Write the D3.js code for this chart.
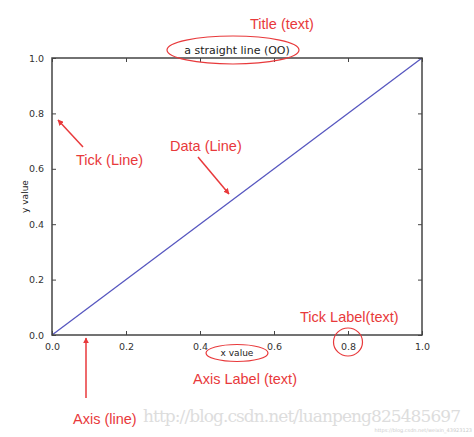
<!DOCTYPE html>
<html><head><meta charset="utf-8">
<script src="https://cdn.jsdelivr.net/npm/d3@7"></script>
<style>body{margin:0;background:#fff}svg{display:block}</style>
</head><body>
<svg id="c" width="474" height="437"></svg>
<script>
const lineX = [0, 1];
const lineY = [0, 1];
const xTicks = [0.0, 0.2, 0.4, 0.6, 0.8, 1.0];
const yTicks = [0.0, 0.2, 0.4, 0.6, 0.8, 1.0];
const title = "a straight line (OO)";
const xLabel = "x value";
const yLabel = "y value";

const svg = d3.select("#c");
const L = 52, R = 422, T = 58, B = 335;
const x = d3.scaleLinear().domain([0, 1]).range([L, R]);
const y = d3.scaleLinear().domain([0, 1]).range([B, T]);
const axisColor = "#444";
const font = "DejaVu Sans, sans-serif";

// data line
const pts = lineX.map((v, i) => [v, lineY[i]]);
svg.append("path").datum(pts)
  .attr("d", d3.line().x(d => x(d[0])).y(d => y(d[1])))
  .attr("fill", "none").attr("stroke", "#5757c0").attr("stroke-width", 1.3);

// axes (inward ticks)
function styleAxis(g, hideLabels) {
  g.select(".domain").remove();
  g.selectAll("line").attr("stroke", axisColor).attr("stroke-width", 1);
  g.selectAll("text").attr("fill", "#333").attr("font-family", font).attr("font-size", 9.5);
  if (hideLabels) g.selectAll("text").remove();
}
const fmt = d3.format(".1f");
svg.append("g").attr("transform", `translate(0,${B})`)
  .call(d3.axisBottom(x).tickValues(xTicks).tickFormat(fmt).tickSizeInner(-4).tickPadding(8))
  .call(g => styleAxis(g, false));
svg.append("g").attr("transform", `translate(0,${T})`)
  .call(d3.axisTop(x).tickValues(xTicks).tickSizeInner(-4))
  .call(g => styleAxis(g, true));
svg.append("g").attr("transform", `translate(${L},0)`)
  .call(d3.axisLeft(y).tickValues(yTicks).tickFormat(fmt).tickSizeInner(-4).tickPadding(8))
  .call(g => styleAxis(g, false));
svg.append("g").attr("transform", `translate(${R},0)`)
  .call(d3.axisRight(y).tickValues(yTicks).tickSizeInner(-4))
  .call(g => styleAxis(g, true));

// frame
svg.append("rect").attr("x", L).attr("y", T).attr("width", R - L).attr("height", B - T)
  .attr("fill", "none").attr("stroke", axisColor).attr("stroke-width", 1.5);

// title and labels
svg.append("text").attr("x", (L + R) / 2).attr("y", 54).attr("text-anchor", "middle")
  .attr("font-family", font).attr("font-size", 11).attr("fill", "#222").text(title);
svg.append("text").attr("x", (L + R) / 2).attr("y", 356).attr("text-anchor", "middle")
  .attr("font-family", font).attr("font-size", 9).attr("fill", "#222").text(xLabel);
svg.append("text").attr("transform", `translate(28,${(T + B) / 2}) rotate(-90)`).attr("text-anchor", "middle")
  .attr("font-family", font).attr("font-size", 9).attr("fill", "#222").text(yLabel);

// annotations
const red = "#e8393b";
const af = "Liberation Sans, Arial, sans-serif";
const ann = [
  ["Title (text)", 250, 29],
  ["Tick (Line)", 76, 165],
  ["Data (Line)", 170, 151],
  ["Tick Label(text)", 300, 322],
  ["Axis Label (text)", 193, 384],
  ["Axis (line)", 73, 424]
];
ann.forEach(a => svg.append("text").attr("x", a[1]).attr("y", a[2])
  .attr("font-family", af).attr("font-size", 14.5).attr("fill", red).text(a[0]));

svg.append("ellipse").attr("cx", 233).attr("cy", 50).attr("rx", 66).attr("ry", 14)
  .attr("fill", "none").attr("stroke", red).attr("stroke-width", 1.2);
svg.append("ellipse").attr("cx", 237).attr("cy", 353).attr("rx", 31).attr("ry", 8.5)
  .attr("fill", "none").attr("stroke", red).attr("stroke-width", 1.2);
svg.append("ellipse").attr("cx", 348).attr("cy", 342).attr("rx", 14.5).attr("ry", 14)
  .attr("fill", "none").attr("stroke", red).attr("stroke-width", 1.2);

const defs = svg.append("defs");
defs.append("marker").attr("id", "ah").attr("viewBox", "0 0 10 10").attr("refX", 9).attr("refY", 5)
  .attr("markerWidth", 4).attr("markerHeight", 4).attr("orient", "auto")
  .append("path").attr("d", "M0,0 L10,5 L0,10 z").attr("fill", red);
const arrows = [[83, 147, 58, 120], [198, 157, 229, 194], [86, 398, 86, 338]];
arrows.forEach(a => svg.append("line").attr("x1", a[0]).attr("y1", a[1]).attr("x2", a[2]).attr("y2", a[3])
  .attr("stroke", red).attr("stroke-width", 1.5).attr("marker-end", "url(#ah)"));

// watermark
svg.append("text").attr("x", 143).attr("y", 422).attr("font-family", "DejaVu Serif, serif")
  .attr("font-size", 17).attr("fill", "#ddd").attr("textLength", 318).text("http://blog.csdn.net/luanpeng825485697");
svg.append("text").attr("x", 472).attr("y", 432).attr("text-anchor", "end").attr("font-family", font)
  .attr("font-size", 5).attr("fill", "#ccc").text("https://blog.csdn.net/weixin_43923123");
</script>
</body></html>
